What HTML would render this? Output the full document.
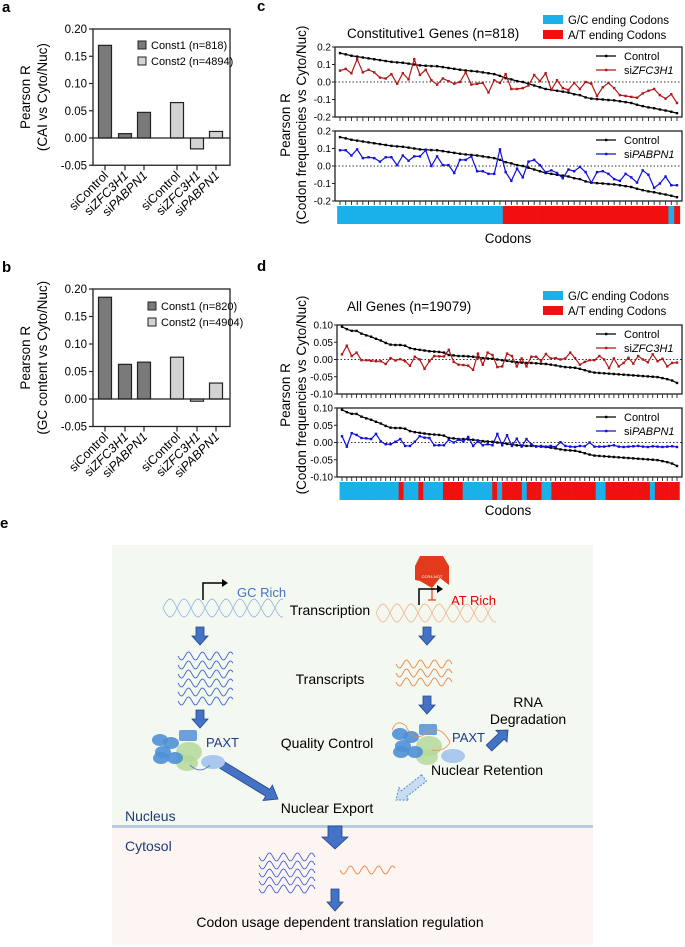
<!DOCTYPE html>
<html><head><meta charset="utf-8"><style>
body{margin:0;background:#fff}
svg{display:block;font-family:"Liberation Sans",sans-serif}
</style></head><body>
<svg id="fig" width="685" height="947" viewBox="0 0 685 947" xmlns="http://www.w3.org/2000/svg">
<g id="pa"></g>
<g id="pb"></g>
<g id="pc"></g>
<g id="pd"></g>
<g id="pe">
  <rect x="112" y="545" width="481" height="281" fill="#f3f8f0"/>
  <rect x="112" y="828" width="481" height="117" fill="#fdf5f2"/>
  <rect x="112" y="825" width="481" height="3" fill="#b8cce2"/>
  <text x="0" y="528" font-size="15" font-weight="bold">e</text>
  <text x="125" y="821" font-size="14" fill="#1f3b73">Nucleus</text>
  <text x="125" y="851" font-size="14" fill="#1f3b73">Cytosol</text>
  <text x="330" y="615" font-size="14" text-anchor="middle">Transcription</text>
  <text x="330" y="684" font-size="14" text-anchor="middle">Transcripts</text>
  <text x="327" y="748" font-size="14" text-anchor="middle">Quality Control</text>
  <text x="327" y="813" font-size="14" text-anchor="middle">Nuclear Export</text>
  <text x="431" y="775" font-size="14">Nuclear Retention</text>
  <text x="528" y="707" font-size="14" text-anchor="middle">RNA</text>
  <text x="528" y="724" font-size="14" text-anchor="middle">Degradation</text>
  <text x="340" y="927" font-size="14" text-anchor="middle">Codon usage dependent translation regulation</text>
  <text x="237" y="597" font-size="13" fill="#4472c4">GC Rich</text>
  <text x="451" y="605" font-size="13" fill="#e00000">AT Rich</text>
  <text x="206" y="747" font-size="13" fill="#1f3b8a">PAXT</text>
  <text x="452" y="742" font-size="13" fill="#1f3b8a">PAXT</text>
  <polygon points="420,556 443,556 449,566 449,585 440,578 432,588 420,581 415,580 415,566" fill="#e33a1e"/>
  <text x="432" y="578" font-size="4" fill="#fff" text-anchor="middle">CCR4-NOT</text>
  <line x1="432" y1="588" x2="432" y2="600" stroke="#e33a1e" stroke-width="1.2"/>
  <line x1="428" y1="600" x2="436" y2="600" stroke="#e33a1e" stroke-width="1.2"/>
  <path d="M203,600 V583 H222" fill="none" stroke="#000" stroke-width="1.5"/>
  <polygon points="222,579 228,583 222,587"/>
  <path d="M419,605 V589 H437" fill="none" stroke="#000" stroke-width="1.5"/>
  <polygon points="437,585 443,589 437,593"/>
  <g id="waves"></g>
  <g id="arrows"></g>
  <g id="complexes"></g>
</g>
</svg>
<script>
// ---------- bar chart data ----------
const barCats = ['siControl','siZFC3H1','siPABPN1','siControl','siZFC3H1','siPABPN1'];
const barGroups = [0,0,0,1,1,1];
const caiValues = [0.170, 0.008, 0.047, 0.065, -0.020, 0.012];
const gcValues = [0.185, 0.063, 0.067, 0.076, -0.004, 0.029];
const barTicks = [0.20, 0.15, 0.10, 0.05, 0.00, -0.05];
// ---------- panel c data ----------
const cControl = [0.165,0.158,0.150,0.145,0.140,0.135,0.130,0.125,0.120,0.115,0.112,0.110,0.105,0.100,0.095,0.093,0.091,0.090,0.085,0.080,0.075,0.070,0.066,0.063,0.060,0.055,0.050,0.045,0.035,0.022,0.015,0.005,0.000,-0.010,-0.020,-0.030,-0.040,-0.045,-0.050,-0.055,-0.060,-0.070,-0.075,-0.088,-0.095,-0.098,-0.100,-0.103,-0.105,-0.110,-0.115,-0.120,-0.130,-0.138,-0.145,-0.150,-0.157,-0.163,-0.170,-0.178];
const cZFC = [0.065,0.075,0.050,0.130,0.055,0.070,0.055,0.025,0.020,0.045,-0.010,0.050,0.015,0.130,0.040,0.070,0.010,-0.015,0.020,0.005,-0.010,0.000,0.055,-0.015,-0.010,-0.005,-0.060,0.010,-0.005,0.045,-0.040,-0.040,-0.035,-0.020,0.040,0.005,0.050,-0.045,0.010,-0.035,-0.045,-0.005,-0.040,0.000,-0.010,-0.080,-0.030,-0.005,-0.035,-0.075,-0.080,-0.085,-0.090,-0.065,-0.050,-0.040,-0.075,-0.095,-0.070,-0.120];
const cPAB = [0.09,0.09,0.06,0.095,0.045,0.05,0.045,0.025,0.05,0.05,0.005,0.06,0.03,0.055,0.055,0.09,0.0,0.055,0.005,0.005,-0.04,0.035,0.035,0.055,-0.03,-0.03,-0.045,-0.045,0.095,-0.035,-0.085,-0.015,-0.065,0.025,0.035,0.005,-0.035,-0.025,-0.04,-0.07,-0.02,-0.03,-0.005,-0.035,-0.095,-0.035,-0.03,-0.045,-0.075,-0.085,-0.045,-0.065,-0.095,-0.025,-0.05,-0.125,-0.1,-0.06,-0.11,-0.11];
const cClass = 'BBBBBBBBBBBBBBBBBBBBBBBBBBBBBRRRRRRRRRRRRRRRRRRRRRRRRRRRRRBR';
const cTicks = [0.2,0.1,0.0,-0.1,-0.2];
const cTickLabels = ['0.2','0.1','0.0','-0.1','-0.2'];
// ---------- panel d data ----------
const dControl = [0.095,0.088,0.083,0.083,0.075,0.07,0.066,0.06,0.055,0.048,0.043,0.042,0.042,0.04,0.033,0.03,0.028,0.026,0.024,0.023,0.022,0.02,0.013,0.012,0.01,0.01,0.009,0.008,0.006,0.004,0.003,0.002,0.0,-0.002,-0.004,-0.006,-0.008,-0.009,-0.01,-0.01,-0.011,-0.012,-0.013,-0.015,-0.017,-0.02,-0.022,-0.023,-0.024,-0.027,-0.031,-0.035,-0.038,-0.039,-0.04,-0.041,-0.042,-0.043,-0.044,-0.045,-0.046,-0.047,-0.048,-0.049,-0.05,-0.051,-0.054,-0.057,-0.061,-0.068];
const dZFC = [0.015,0.04,0.01,0.02,-0.002,-0.002,-0.004,-0.005,-0.005,-0.013,0.004,-0.003,0.001,-0.005,-0.018,0.008,0.0,-0.027,-0.005,0.01,0.009,0.009,0.028,-0.007,-0.015,-0.016,-0.018,-0.03,0.017,-0.015,0.02,0.013,-0.022,-0.02,0.017,0.01,-0.02,0.003,-0.02,0.008,0.008,-0.004,0.016,0.003,0.004,0.0,0.003,0.02,0.004,-0.015,-0.007,-0.002,-0.002,0.01,0.0,-0.025,0.003,-0.02,-0.01,0.005,-0.012,0.01,0.0,-0.008,0.015,-0.005,0.002,-0.02,-0.01,-0.009];
const dPAB = [0.018,-0.012,0.027,0.022,0.013,0.012,0.01,0.025,0.003,-0.005,-0.005,0.002,0.01,-0.01,-0.01,0.002,0.018,0.014,0.013,-0.008,-0.008,-0.008,0.008,0.0,0.008,0.003,0.016,-0.01,0.004,-0.008,-0.005,-0.008,0.025,-0.008,0.021,-0.01,0.011,-0.012,0.01,-0.005,-0.012,-0.01,-0.012,-0.01,-0.013,0.001,-0.01,-0.012,-0.013,-0.01,-0.011,0.0,-0.012,-0.012,-0.012,-0.01,-0.008,-0.012,-0.013,-0.012,-0.011,-0.01,-0.012,-0.013,-0.011,-0.012,-0.013,-0.012,-0.011,-0.013];
const dClass = 'BBBBBBBBBBBBRBBBRBBBBRRRRBBBBBBRBRRRRBRRRBBRRRRRRRRRBBRRRRRRRRRBRRRRR';
const dTicks = [0.10,0.05,0.00,-0.05,-0.10];
const dTickLabels = ['0.10','0.05','0.00','-0.05','-0.10'];

const NS='http://www.w3.org/2000/svg';
function mk(parent, tag, attrs, txt){
  const e=document.createElementNS(NS,tag);
  for(const k in attrs) e.setAttribute(k,attrs[k]);
  if(txt!==undefined) e.textContent=txt;
  parent.appendChild(e); return e;
}

// ---------- bar charts ----------
function barChart(g, label, labelY, vals, y0, unit, yLabel2, legendTexts, legX, legY){
  const x0=93,x1=230;
  const yv=v=>y0-v*unit;
  const top=yv(0.20), bot=yv(-0.05);
  const t=mk(g,'text',{x:2,y:labelY,'font-size':15,'font-weight':'bold'},label);
  
  
  const centers=[105,125,144,177,197,216];
  vals.forEach((v,i)=>{
    const r=mk(g,'rect',{x:centers[i]-6.5,y:Math.min(yv(v),yv(0)),width:13,height:Math.abs(yv(v)-yv(0)),fill:barGroups[i]?'#d3d3d3':'#7a7a7a',stroke:'#222','stroke-width':1.2});
    
    
    const tk=mk(g,'line',{x1:centers[i],x2:centers[i],y1:bot,y2:bot+5,stroke:'#222','stroke-width':1.2});
    
    
    const nm=barCats[i].slice(2);
    const lt=mk(g,'text',{transform:`translate(${centers[i]+4},${bot+11}) rotate(-45)`,'font-size':12.5,'text-anchor':'end'});
    
    
    mk(lt,'tspan',{},'si');
    mk(lt,'tspan',{'font-style':nm==='Control'?'normal':'italic'},nm);
  });
  const fr=mk(g,'rect',{x:x0,y:top,width:x1-x0,height:bot-top,fill:'none',stroke:'#222','stroke-width':1.3});
  
  
  const zl=mk(g,'line',{x1:x0,x2:x1,y1:yv(0),y2:yv(0),stroke:'#222','stroke-width':1.2});
  
  
  barTicks.forEach(v=>{
    const l=mk(g,'line',{x1:x0-4,x2:x0,y1:yv(v),y2:yv(v),stroke:'#222','stroke-width':1.2});
    
    
    const tt=mk(g,'text',{x:x0-6,y:yv(v)+4,'font-size':11.5,'text-anchor':'end'},v.toFixed(2));
    
    
  });
  const cy=(top+bot)/2;
  const a1=mk(g,'text',{transform:`translate(30,${cy}) rotate(-90)`,'font-size':13.5,'text-anchor':'middle'},'Pearson R');
  
  
  const a2=mk(g,'text',{transform:`translate(47,${cy}) rotate(-90)`,'font-size':13.5,'text-anchor':'middle'},yLabel2);
  
  
  legendTexts.forEach((s,i)=>{
    const lb=mk(g,'rect',{x:legX,y:legY+i*16-4,width:8,height:8,fill:i?'#d3d3d3':'#7a7a7a',stroke:'#222','stroke-width':1});
    
    
    const lt=mk(g,'text',{x:legX+13,y:legY+i*16+4,'font-size':11},s);
    
    
  });
}
barChart(document.getElementById('pa'),'a',12,caiValues,138,545,'(CAI vs Cyto/Nuc)',['Const1 (n=818)','Const2 (n=4894)'],138,45);
barChart(document.getElementById('pb'),'b',272,gcValues,399,550,'(GC content vs Cyto/Nuc)',['Const1 (n=820)','Const2 (n=4904)'],148,306);

// ---------- line charts ----------
function linePlot(g, x0, x1, top, bot, maxV, ticks, tickLabels, control, other, color, name){
  const n=control.length;
  const xs=i=>x0+5+i*(x1-x0-10)/(n-1);
  const ys=v=>top+(maxV-v)/(2*maxV)*(bot-top);
  const fr=mk(g,'rect',{x:x0,y:top,width:x1-x0,height:bot-top,fill:'none',stroke:'#222','stroke-width':1.3});
  
  
  const zl=mk(g,'line',{x1:x0,x2:x1,y1:ys(0),y2:ys(0),stroke:'#333','stroke-width':0.9,'stroke-dasharray':'1.5,2'});
  
  
  ticks.forEach((v,i)=>{
    const l=mk(g,'line',{x1:x0-3,x2:x0,y1:ys(v),y2:ys(v),stroke:'#222','stroke-width':1});
    
    
    const tt=mk(g,'text',{x:x0-4,y:ys(v)+3.5,'font-size':10,'text-anchor':'end'},tickLabels[i]);
    
    
  });
  for(let i=0;i<n;i++){
    const l=mk(g,'line',{x1:xs(i),x2:xs(i),y1:bot,y2:bot+4,stroke:'#222','stroke-width':0.9});
    
    
  }
  [[control,'#000','control'],[other,color,name]].forEach(([arr,col,nm])=>{
    const p=mk(g,'polyline',{points:arr.map((v,i)=>xs(i)+','+ys(v)).join(' '),fill:'none',stroke:col,'stroke-width':1.2});
    
    
    arr.forEach((v,i)=>{
      const c=mk(g,'rect',{x:xs(i)-1.2,y:ys(v)-1.2,width:2.4,height:2.4,fill:col});
      
      
    });
  });
  const lx=x1-86;
  [['#000','Control',''],[color,'si',name.toUpperCase()]].forEach(([col,a,b],i)=>{
    const yy=top+9+i*14;
    const l=mk(g,'line',{x1:lx,x2:lx+20,y1:yy,y2:yy,stroke:col,'stroke-width':1.2});
    
    
    mk(g,'rect',{x:lx+9,y:yy-1.2,width:2.4,height:2.4,fill:col});
    const t=mk(g,'text',{x:lx+28,y:yy+4,'font-size':11});
    
    
    mk(t,'tspan',{},a);
    if(b) mk(t,'tspan',{'font-style':'italic'},b);
  });
}
function strip(g,x0,x1,y,h,cls){
  const n=cls.length;
  const w=(x1-x0-10)/(n-1);
  for(let i=0;i<n;i++){
    const r=mk(g,'rect',{x:x0+5+i*w-w/2,y:y,width:w+0.3,height:h,fill:cls[i]==='B'?'#1ab0ea':'#f01010'});
    
    
  }
}
function header(g,letter,ly,title,ty,legY,axisCy,codY){
  const t=mk(g,'text',{x:257,y:ly,'font-size':15,'font-weight':'bold'},letter);
  
  
  const tt=mk(g,'text',{x:347,y:ty,'font-size':13.5},title);
  
  
  [['#1ab0ea','G/C ending Codons'],['#f01010','A/T ending Codons']].forEach(([c,s],i)=>{
    const r=mk(g,'rect',{x:543,y:legY+i*15-5,width:20,height:9,fill:c});
    
    
    const l=mk(g,'text',{x:568,y:legY+i*15+4,'font-size':11.5},s);
    
    
  });
  const a1=mk(g,'text',{transform:`translate(290,${axisCy}) rotate(-90)`,'font-size':13.5,'text-anchor':'middle'},'Pearson R');
  
  
  const a2=mk(g,'text',{transform:`translate(306,${axisCy}) rotate(-90)`,'font-size':13.5,'text-anchor':'middle'},'(Codon frequencies vs Cyto/Nuc)');
  
  
  const c=mk(g,'text',{x:508,y:codY,'font-size':13.5,'text-anchor':'middle'},'Codons');
  
  
}
const pc=document.getElementById('pc');
header(pc,'c',11,'Constitutive1 Genes (n=818)',38,20,125,243);
linePlot(pc,335,682,47,117,0.2,cTicks,cTickLabels,cControl,cZFC,'#b01818','zfc3h1');
linePlot(pc,335,682,131,201,0.2,cTicks,cTickLabels,cControl,cPAB,'#1010d8','pabpn1');
strip(pc,335,682,206,18,cClass);
const pd=document.getElementById('pd');
header(pd,'d',271,'All Genes (n=19079)',311,296,395,515);
linePlot(pd,337,682,325,394,0.1,dTicks,dTickLabels,dControl,dZFC,'#b01818','zfc3h1');
linePlot(pd,337,682,408,477,0.1,dTicks,dTickLabels,dControl,dPAB,'#1010d8','pabpn1');
strip(pd,337,682,482,18,dClass);

// ---------- diagram ----------
const W=document.getElementById('waves');
function wave(x,y,w,amp,per,col,nm,sw){
  let d='M'+x+','+y;
  for(let t=0;t<=w;t+=1) d+=' L'+(x+t)+','+(y+amp*Math.sin(t/per*2*Math.PI));
  const p=mk(W,'path',{d:d,fill:'none',stroke:col,'stroke-width':sw||0.9});
  
  
}
function helix(x,y,w,col,nm){ wave(x,y,w,9,28,col,nm+'-strand1',0.7); let d='M'+x+','+y; for(let t=0;t<=w;t++) d+=' L'+(x+t)+','+(y-9*Math.sin(t/28*2*Math.PI)); const p=mk(W,'path',{d:d,fill:'none',stroke:col,'stroke-width':0.7});   }
helix(163,608,120,'#8aa8d8','dna-gc-rich');
helix(376,613,120,'#f0a878','dna-at-rich');
for(let i=0;i<6;i++) wave(178,656+i*9,55,4,14,'#4466cc','transcript-gc');
for(let i=0;i<3;i++) wave(396,664+i*9,56,4,14,'#e8884a','transcript-at');
for(let i=0;i<5;i++) wave(259,857+i*8,56,4,14,'#4466cc','cytosol-transcript-gc');
wave(340,870,55,4,14,'#e8884a','cytosol-transcript-at');

const A=document.getElementById('arrows');
function blockArrow(x1,y1,x2,y2,sw,hw,hl,fill,nm,dash){
  const dx=x2-x1,dy=y2-y1,L=Math.hypot(dx,dy),ux=dx/L,uy=dy/L,px=-uy,py=ux;
  const bx=x2-ux*hl,by=y2-uy*hl;
  const pts=[[x1+px*sw,y1+py*sw],[bx+px*sw,by+py*sw],[bx+px*hw,by+py*hw],[x2,y2],[bx-px*hw,by-py*hw],[bx-px*sw,by-py*sw],[x1-px*sw,y1-py*sw]];
  const a={points:pts.map(p=>p.join(',')).join(' '),fill:fill,stroke:dash?'#5b8fd0':'#22458a','stroke-width':dash?1:0.8};
  if(dash) a['stroke-dasharray']='2,1.5';
  const p=mk(A,'polygon',a);
  
  
}
const blue='#4472c4';
blockArrow(200,627,200,645,4,8,9,blue,'arrow-down-gc-1');
blockArrow(427,627,427,645,4,8,9,blue,'arrow-down-at-1');
blockArrow(200,710,200,728,4,8,9,blue,'arrow-down-gc-2');
blockArrow(427,696,427,714,4,8,9,blue,'arrow-down-at-2');
blockArrow(222,765,278,799,4,9,12,blue,'arrow-nuclear-export');
blockArrow(489,748,508,730,4,8,9,blue,'arrow-rna-degradation');
blockArrow(424,778,396,800,4,8,10,'#c8ddf2','arrow-nuclear-retention-dashed',true);
blockArrow(335,826,335,849,7,13,12,blue,'arrow-to-cytosol');
blockArrow(335,889,335,911,4,8,9,blue,'arrow-translation');

const C=document.getElementById('complexes');
function complex(ox,oy,nm,rna){
  const g=mk(C,'g',{});
  
  
  mk(g,'ellipse',{cx:ox+36,cy:oy+22,rx:13,ry:10,fill:'#b5d99a',opacity:0.85});
  mk(g,'ellipse',{cx:ox+34,cy:oy+33,rx:11,ry:8,fill:'#b5d99a',opacity:0.85});
  mk(g,'ellipse',{cx:ox+60,cy:oy+32,rx:12,ry:7,fill:'#a9c8ec'});
  mk(g,'rect',{x:ox+26,y:oy,width:18,height:11,rx:2,fill:'#6aa0dc'});
  [[7,10],[18,13],[10,22],[22,28],[8,28]].forEach(([a,b])=>mk(g,'ellipse',{cx:ox+a,cy:oy+b,rx:8,ry:6,fill:'#4f8fd6',opacity:0.9}));
  mk(g,'path',{d:rna,fill:'none',stroke:nm.includes('right')?'#e8884a':'#4466cc','stroke-width':0.8});
}
complex(153,730,'paxt-complex-left','M190,765 q10,10 20,0');
complex(393,724,'paxt-complex-right','M392,730 q5,-12 14,-4 q8,18 22,6 q12,-8 22,10 q-5,10 -18,8');
</script>
</body></html>
